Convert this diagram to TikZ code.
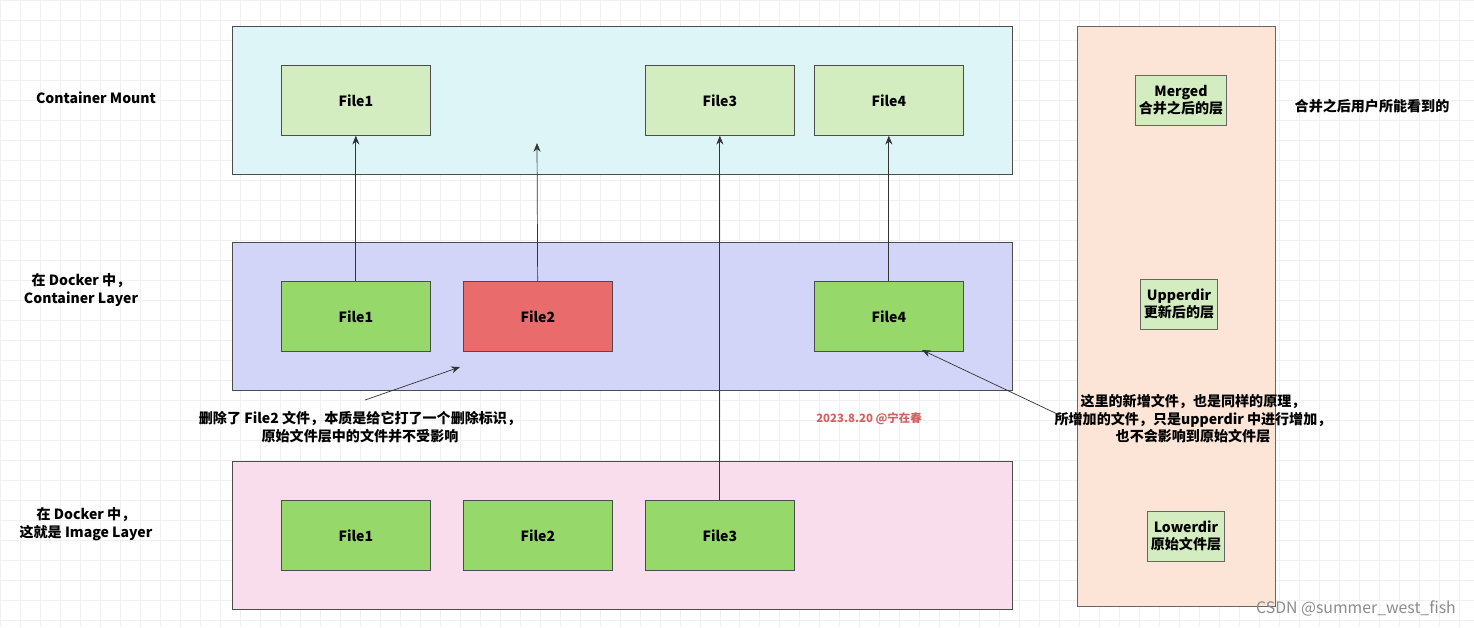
\documentclass[tikz,border=0pt]{standalone}
\usepackage{fontspec}
\setmainfont{Noto Sans CJK SC}
\usetikzlibrary{arrows.meta}
\definecolor{mountbg}{HTML}{DDF5F7}
\definecolor{upperbg}{HTML}{D2D5F7}
\definecolor{lowerbg}{HTML}{FADDEC}
\definecolor{mergebg}{HTML}{FCE4D6}
\definecolor{lightgreen}{HTML}{D3EDC0}
\definecolor{green}{HTML}{97D86A}
\definecolor{red}{HTML}{EA6B6B}
\definecolor{gridc}{HTML}{F0F0F0}
\tikzset{
  txt/.style={font=\fontsize{8}{10}\selectfont\bfseries,align=center},
  layer/.style={draw=black!70,minimum width=15.6cm,minimum height=2.96cm,anchor=north west},
  file/.style={draw=black!70,txt,minimum width=2.98cm,minimum height=1.4cm,anchor=north west},
  tag/.style={draw=black!60,fill=lightgreen,txt,minimum height=1cm,inner sep=2pt},
  arr/.style={-{Stealth[length=5pt,width=4pt]},black!80}
}
\begin{document}
\begin{tikzpicture}[x=0.02cm,y=-0.02cm]
\useasboundingbox (0,0) rectangle (1474,627);
\fill[white] (0,0) rectangle (1474,627);
\draw[gridc,step=0.4cm] (0,0) grid (1474,627);
% layers
\node[layer,fill=mountbg] (mount) at (232,26) {};
\node[layer,fill=upperbg] (upper) at (232,242) {};
\node[layer,fill=lowerbg] (lower) at (232,461) {};
\node[draw=black!60,fill=mergebg,minimum width=3.96cm,minimum height=11.6cm,anchor=north west] (side) at (1077,26) {};
% container mount
\node[file,fill=lightgreen] (m1) at (281,65) {File1};
\node[file,fill=lightgreen] (m3) at (645,65) {File3};
\node[file,fill=lightgreen] (m4) at (814,65) {File4};
% container layer
\node[file,fill=green] (u1) at (281,281) {File1};
\node[file,fill=red] (u2) at (463,281) {File2};
\node[file,fill=green] (u4) at (814,281) {File4};
% image layer
\node[file,fill=green] (l1) at (281,500) {File1};
\node[file,fill=green] (l2) at (463,500) {File2};
\node[file,fill=green] (l3) at (645,500) {File3};
\coordinate (hide) at (537,143);
\draw[arr] (u1) -- (m1);
\draw[arr] (u2) -- (hide);
\draw[arr] (l3) -- (m3);
\draw[arr] (u4) -- (m4);
% labels
\node[txt] (t1) at (96,98) {Container Mount};
\node[txt] (t2) at (81,290) {在 Docker 中，\\Container Layer};
\node[txt] (t3) at (86,524) {在 Docker 中，\\这就是 Image Layer};
\node[tag] (s1) at (1181,100) {Merged\\合并之后的层};
\node[tag] (s2) at (1179,304) {Upperdir\\更新后的层};
\node[tag] (s3) at (1186,536) {Lowerdir\\原始文件层};
\node[txt] (s4) at (1372,106) {合并之后用户所能看到的};
\node[txt] (n1) at (360,427) {删除了 File2 文件，本质是给它打了一个删除标识，\\原始文件层中的文件并不受影响};
\node[txt,text=red!90!black,font=\fontsize{6.5}{8}\selectfont\bfseries] (n2) at (869,419) {2023.8.20 @宁在春};
\node[txt] (n3) at (1193,419) {这里的新增文件，也是同样的原理，\\所增加的文件，只是upperdir 中进行增加，\\也不会影响到原始文件层};
\coordinate (p1) at (365,400);
\coordinate (p2) at (460,367);
\coordinate (p3) at (1070,420);
\coordinate (p4) at (922,350);
\draw[arr] (p1) -- (p2);
\draw[arr] (p3) -- (p4);
\node[text=black!45,font=\fontsize{9}{10}\selectfont,anchor=east] (wm) at (1462,608) {CSDN @summer\_west\_fish};
\end{tikzpicture}
\end{document}
